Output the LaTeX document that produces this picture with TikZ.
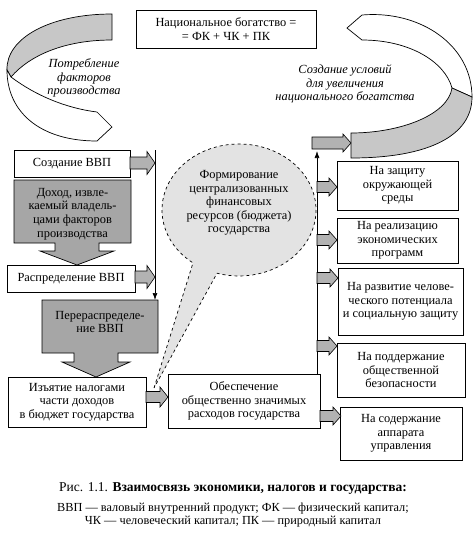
\documentclass[tikz,border=0pt]{standalone}
\usepackage{fontspec}
\setmainfont{Liberation Serif}
\usetikzlibrary{arrows.meta}
\newcommand{\bx}{\fontsize{12.4}{13.6}\selectfont}
\newcommand{\blockR}[5]{%
  \filldraw[garrow] (#1,#3-#4) -- (#2-8,#3-#4) -- (#2-8,#3-#5) -- (#2,#3) -- (#2-8,#3+#5) -- (#2-8,#3+#4) -- (#1,#3+#4) -- cycle;}
\tikzset{
  rbox/.style={draw, line width=0.7pt, fill=white, align=center, inner sep=0pt, font=\bx},
  txt/.style={align=center, inner sep=0pt, font=\bx},
  garrow/.style={fill=black!30, draw, line width=0.6pt},
  gblock/.style={fill=black!35, draw, line width=0.7pt},
  ribg/.style={fill=black!22, draw, line width=0.7pt},
  ribw/.style={fill=white, draw, line width=0.7pt},
  conn/.style={line width=0.7pt, -{Latex[length=7pt,width=5pt]}},
  bubble/.style={fill=black!11, draw, dashed, line width=0.7pt},
}
\begin{document}
\begin{tikzpicture}[x=1pt,y=-1pt]
\useasboundingbox (0,0) rectangle (474,539);
% top box
\node[rbox, minimum width=180, minimum height=38] (nb) at (226,29) {Национальное богатство =\\= ФК + ЧК + ПК};
% left ribbon
\filldraw[ribg] (112,14) .. controls (50,14) and (6,38) .. (7,70) -- (11,77) .. controls (30,55) and (65,40) .. (112,40) -- cycle;
\filldraw[ribw] (11,77) .. controls (35,95) and (65,108) .. (97,112) -- (112,127) -- (97,141) .. controls (40,141) and (7,112) .. (7,70) -- cycle;
\node[txt, font=\bx\itshape] (lrib) at (84,78) {Потребление\\факторов\\производства};
% right ribbon
\filldraw[ribw] (362,15) .. controls (420,10) and (472,45) .. (472,97) -- (452,88) .. controls (445,62) and (410,40) .. (362,40) -- (347,28) -- cycle;
\filldraw[ribg] (452,88) .. controls (448,115) and (400,133) .. (351,133) -- (351,158) .. controls (430,158) and (472,135) .. (472,97) -- cycle;
\node[txt, font=\bx\itshape] (rrib) at (345,84) {Создание условий\\для увеличения\\национального богатства};
% bubble
\path[bubble] (154,388) -- (193,262.9) arc[start angle=126.7, end angle=466.6, x radius=77, y radius=66] -- cycle;
\node[txt] (bub) at (239,203) {Формирование\\централизованных\\финансовых\\ресурсов (бюджета)\\государства};
% left column
\node[rbox, minimum width=116, minimum height=27] (create) at (72,163.5) {Создание ВВП};
\filldraw[gblock] (14,180) -- (131,180) -- (131,243) -- (99,243) -- (99,251) -- (114,251) -- (77,265) -- (40,251) -- (55,251) -- (55,243) -- (14,243) -- cycle;
\node[txt] (dohod) at (72.5,214) {Доход, извле-\\каемый владель-\\цами факторов\\производства};
\node[rbox, minimum width=128, minimum height=27] (raspr) at (71,278.5) {Распределение ВВП};
\filldraw[gblock] (42,300) -- (158,300) -- (158,353) -- (118,353) -- (118,362) -- (130,362) -- (96,377) -- (62,362) -- (74,362) -- (74,353) -- (42,353) -- cycle;
\node[txt] (pereraspr) at (100,322) {Перераспределе-\\ние ВВП};
\node[rbox, minimum width=138, minimum height=50] (izyat) at (77,402) {Изъятие налогами\\части доходов\\в бюджет государства};
\node[rbox, minimum width=152, minimum height=54] (obesp) at (244,401) {Обеспечение\\общественно значимых\\расходов государства};
% right column
\node[rbox, minimum width=121, minimum height=49] (b1) at (397.5,185.5) {На защиту\\окружающей\\среды};
\node[rbox, minimum width=121, minimum height=45] (b2) at (397.5,240.5) {На реализацию\\экономических\\программ};
\node[rbox, minimum width=125, minimum height=67] (b3) at (400.5,301.5) {На развитие челове-\\ческого потенциала\\и социальную защиту};
\node[rbox, minimum width=128, minimum height=54] (b4) at (401,370) {На поддержание\\общественной\\безопасности};
\node[rbox, minimum width=122, minimum height=53] (b5) at (401,433.5) {На содержание\\аппарата\\управления};
% connectors
\coordinate (L1) at (155,150);
\coordinate (L2) at (155,300);
\draw[conn] (L1) -- (L2);
\coordinate (R1) at (317,374);
\coordinate (R2) at (317,151);
\draw[conn] (R1) -- (R2);
% gray block arrows
\blockR{130}{155}{163}{6}{11.5}
\blockR{135}{155}{277}{6}{11.5}
\blockR{146}{168}{397}{5.5}{10}
\blockR{312}{351}{143}{6}{9}
\blockR{317}{337}{187}{5.5}{9}
\blockR{317}{337}{240}{5.5}{9}
\blockR{317}{338}{278}{5.5}{9}
\blockR{317}{337}{346}{5.5}{9}
\blockR{320}{341}{416}{5.5}{9}
% caption
\node[txt, font=\fontsize{13.5}{15}\selectfont] (cap) at (233,488) {Рис. 1.1. \textbf{Взаимосвязь экономики, налогов и государства:}};
\node[txt, font=\fontsize{12.3}{13.2}\selectfont] (leg) at (233,515) {ВВП — валовый внутренний продукт; ФК — физический капитал;\\ЧК — человеческий капитал; ПК — природный капитал};
\end{tikzpicture}
\end{document}
